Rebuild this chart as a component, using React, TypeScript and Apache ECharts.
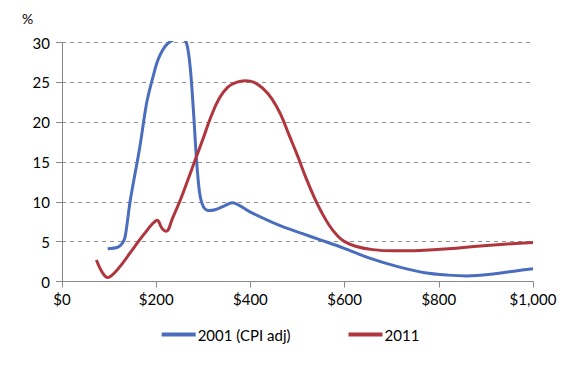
import React, { useEffect, useRef } from "react";
import * as echarts from "echarts";

const seriesNames = ["2001 (CPI adj)", "2011"];

// [income $, share %]
const data2001: [number, number][] = [
  [97, 4.1], [118, 4.3], [128, 4.8], [134, 5.6], [145, 10.2], [165, 16.8],
  [180, 22.5], [195, 26.1], [205, 28.0], [220, 29.6], [238, 30.4], [252, 30.6],
  [264, 30.0], [272, 27.0], [279, 21.5], [285, 15.8], [292, 11.2], [300, 9.4],
  [310, 8.9], [325, 9.0], [345, 9.5], [361, 9.9], [400, 8.7], [463, 7.0],
  [506, 6.1], [550, 5.2], [598, 4.2], [650, 3.0], [711, 1.9], [770, 1.1],
  [820, 0.8], [860, 0.7], [910, 0.9], [960, 1.3], [1000, 1.6],
];

const data2011: [number, number][] = [
  [73, 2.7], [85, 1.2], [97, 0.5], [110, 1.0], [130, 2.4], [152, 4.2],
  [175, 6.0], [193, 7.3], [202, 7.7], [212, 6.7], [221, 6.3], [235, 8.0],
  [251, 10.2], [267, 12.7], [283, 15.3], [300, 18.0], [317, 20.8], [334, 23.0],
  [352, 24.4], [370, 25.0], [389, 25.2], [408, 25.0], [427, 24.2], [446, 22.9],
  [464, 21.0], [482, 18.4], [500, 15.8], [518, 13.0], [536, 10.5], [552, 8.6],
  [568, 7.0], [584, 5.8], [600, 5.0], [625, 4.4], [660, 4.0], [704, 3.85],
  [760, 3.9], [820, 4.1], [888, 4.45], [945, 4.7], [1000, 4.9],
];

const yTicks = { min: 0, max: 30, interval: 5 };
const xTicks = { min: 0, max: 1000, interval: 200 };

const FONT = "Lato";

export default function App() {
  const ref = useRef<HTMLDivElement>(null);
  useEffect(() => {
    if (!ref.current) return;
    const chart = echarts.init(ref.current, undefined, { renderer: "svg" });
    chart.setOption({
      animation: false,
      textStyle: { fontFamily: FONT },
      grid: { left: 62, right: 48, top: 42.5, bottom: 92.5, containLabel: false },
      graphic: [
        {
          type: "text",
          left: 22,
          top: 11,
          style: { text: "%", fontFamily: FONT, fontSize: 14, fill: "#000" },
        },
      ],
      legend: {
        bottom: 27,
        left: "center",
        itemWidth: 34,
        itemHeight: 4,
        itemGap: 58,
        icon: "rect",
        textStyle: { fontFamily: FONT, fontSize: 15, color: "#000", padding: [0, 0, 0, -3] },
        data: seriesNames,
      },
      xAxis: {
        type: "value",
        min: xTicks.min,
        max: xTicks.max,
        interval: xTicks.interval,
        axisLine: { show: true, lineStyle: { color: "#888", width: 1 } },
        axisTick: { show: true, length: 6, lineStyle: { color: "#888" } },
        splitLine: { show: false },
        axisLabel: {
          color: "#000",
          fontFamily: FONT,
          fontSize: 15,
          margin: 10,
          formatter: (v: number) => "$" + v.toLocaleString("en-US"),
        },
      },
      yAxis: {
        type: "value",
        min: yTicks.min,
        max: yTicks.max,
        interval: yTicks.interval,
        axisLine: { show: true, lineStyle: { color: "#888", width: 1 } },
        axisTick: { show: true, length: 6, lineStyle: { color: "#888" } },
        splitLine: { show: true, lineStyle: { color: "#8f8f8f", type: [4, 4], width: 1 } },
        axisLabel: { color: "#000", fontFamily: FONT, fontSize: 15, margin: 12 },
      },
      series: [
        {
          name: seriesNames[0],
          type: "line",
          data: data2001,
          smooth: 0.3,
          showSymbol: false,
          clip: true,
          lineStyle: { color: "#4A6DBE", width: 3 },
          itemStyle: { color: "#4A6DBE" },
        },
        {
          name: seriesNames[1],
          type: "line",
          data: data2011,
          smooth: 0.4,
          showSymbol: false,
          clip: true,
          lineStyle: { color: "#B0363E", width: 3 },
          itemStyle: { color: "#B0363E" },
        },
      ],
    });
    return () => chart.dispose();
  }, []);
  return <div ref={ref} style={{ width: 581, height: 374, margin: -8 }} />;
}
